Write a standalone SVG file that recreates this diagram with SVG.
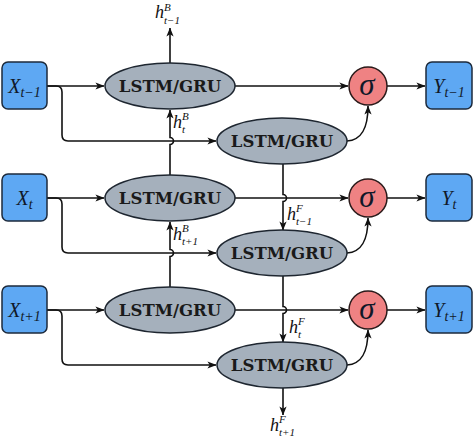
<svg xmlns="http://www.w3.org/2000/svg" width="474" height="440" viewBox="0 0 474 440">
<defs>
<marker id="arr" viewBox="0 -4 10 8" refX="9.5" refY="0" markerWidth="9" markerHeight="7.2" markerUnits="userSpaceOnUse" orient="auto">
<path d="M0,-4 L10,0 L0,4 L2.5,0 z" fill="#111"/>
</marker>
<style>
.box{fill:#5ea8f3;stroke:#1c2a3c;stroke-width:1.5}
.cell{fill:#a5b0bc;stroke:#1e2630;stroke-width:1.5}
.sig{fill:#ef8283;stroke:#2a1a1a;stroke-width:1.5}
.cl{font-family:"DejaVu Serif","Liberation Serif",serif;font-weight:bold;font-size:16.5px;fill:#1a1a1a;text-anchor:middle}
.m{font-family:"Liberation Serif","DejaVu Serif",serif;font-style:italic;fill:#101828}
.lbl{font-family:"Liberation Serif","DejaVu Serif",serif;font-style:italic;fill:#111}
.c{fill:none;stroke:#111;stroke-width:1.6}
.a{marker-end:url(#arr)}
</style>
</defs>
<g id="connectors">
<path class="c a" d="M47,86 H104"/>
<path class="c a" d="M47,86 H56 Q62,86 62,92 V135 Q62,141 68,141 H216"/>
<path class="c a" d="M235,86 H348"/>
<path class="c a" d="M347,141 C362,140 368,128 368,106"/>
<path class="c a" d="M387,86 H425"/>
<path class="c a" d="M47,198 H104"/>
<path class="c a" d="M47,198 H56 Q62,198 62,204 V247 Q62,253 68,253 H216"/>
<path class="c a" d="M235,198 H348"/>
<path class="c a" d="M347,253 C362,252 368,240 368,218"/>
<path class="c a" d="M387,198 H425"/>
<path class="c a" d="M47,310 H104"/>
<path class="c a" d="M47,310 H56 Q62,310 62,316 V359 Q62,365 68,365 H216"/>
<path class="c a" d="M235,310 H348"/>
<path class="c a" d="M347,365 C362,364 368,352 368,330"/>
<path class="c a" d="M387,310 H425"/>
<path class="c a" d="M170,63 V28"/>
<path class="c a" d="M170,175 V144.5 A3.5,3.5 0 0 0 170,137.5 V110"/>
<path class="c a" d="M170,287 V256.5 A3.5,3.5 0 0 0 170,249.5 V222"/>
<path class="c a" d="M283,164 V194.5 A3.5,3.5 0 0 1 283,201.5 V230"/>
<path class="c a" d="M283,276 V306.5 A3.5,3.5 0 0 1 283,313.5 V342"/>
<path class="c a" d="M283,388 V415"/>
</g>
<g id="x0"><rect class="box" x="2" y="62" width="45" height="47" rx="6"/><text class="m" x="24.5" y="93" text-anchor="middle" font-size="20">X<tspan font-size="14" dy="4">t−1</tspan></text></g>
<g id="x1"><rect class="box" x="2" y="174" width="45" height="47" rx="6"/><text class="m" x="24.5" y="205" text-anchor="middle" font-size="20">X<tspan font-size="14" dy="4">t</tspan></text></g>
<g id="x2"><rect class="box" x="2" y="286" width="45" height="47" rx="6"/><text class="m" x="24.5" y="317" text-anchor="middle" font-size="20">X<tspan font-size="14" dy="4">t+1</tspan></text></g>
<g id="b0"><ellipse class="cell" cx="170" cy="86" rx="65" ry="23"/><text class="cl" x="170" y="92">LSTM/GRU</text></g>
<g id="b1"><ellipse class="cell" cx="170" cy="198" rx="65" ry="23"/><text class="cl" x="170" y="204">LSTM/GRU</text></g>
<g id="b2"><ellipse class="cell" cx="170" cy="310" rx="65" ry="23"/><text class="cl" x="170" y="316">LSTM/GRU</text></g>
<g id="f0"><ellipse class="cell" cx="282" cy="141" rx="65" ry="23"/><text class="cl" x="282" y="147">LSTM/GRU</text></g>
<g id="f1"><ellipse class="cell" cx="282" cy="253" rx="65" ry="23"/><text class="cl" x="282" y="259">LSTM/GRU</text></g>
<g id="f2"><ellipse class="cell" cx="282" cy="365" rx="65" ry="23"/><text class="cl" x="282" y="371">LSTM/GRU</text></g>
<g id="s0"><circle class="sig" cx="368" cy="86" r="19"/><text class="m" x="367" y="95" text-anchor="middle" font-size="31">σ</text></g>
<g id="s1"><circle class="sig" cx="368" cy="198" r="19"/><text class="m" x="367" y="207" text-anchor="middle" font-size="31">σ</text></g>
<g id="s2"><circle class="sig" cx="368" cy="310" r="19"/><text class="m" x="367" y="319" text-anchor="middle" font-size="31">σ</text></g>
<g id="y0"><rect class="box" x="426" y="62" width="46" height="47" rx="6"/><text class="m" x="449" y="93" text-anchor="middle" font-size="20">Y<tspan font-size="14" dy="4">t−1</tspan></text></g>
<g id="y1"><rect class="box" x="426" y="174" width="46" height="47" rx="6"/><text class="m" x="449" y="205" text-anchor="middle" font-size="20">Y<tspan font-size="14" dy="4">t</tspan></text></g>
<g id="y2"><rect class="box" x="426" y="286" width="46" height="47" rx="6"/><text class="m" x="449" y="317" text-anchor="middle" font-size="20">Y<tspan font-size="14" dy="4">t+1</tspan></text></g>
<g id="labels">
<text class="lbl" x="155" y="18" font-size="18">h</text><text class="lbl" x="164" y="11" font-size="11">B</text><text class="lbl" x="164" y="24" font-size="11">t−1</text>
<text class="lbl" x="173" y="128" font-size="18">h</text><text class="lbl" x="182" y="120" font-size="11">B</text><text class="lbl" x="182" y="133" font-size="11">t</text>
<text class="lbl" x="173" y="240" font-size="18">h</text><text class="lbl" x="182" y="232" font-size="11">B</text><text class="lbl" x="182" y="245" font-size="11">t+1</text>
<text class="lbl" x="287" y="220" font-size="18">h</text><text class="lbl" x="296" y="212" font-size="11">F</text><text class="lbl" x="296" y="225" font-size="11">t−1</text>
<text class="lbl" x="289" y="333" font-size="18">h</text><text class="lbl" x="298" y="325" font-size="11">F</text><text class="lbl" x="298" y="338" font-size="11">t</text>
<text class="lbl" x="270" y="431" font-size="18">h</text><text class="lbl" x="279" y="423" font-size="11">F</text><text class="lbl" x="279" y="436" font-size="11">t+1</text>
</g>
</svg>
